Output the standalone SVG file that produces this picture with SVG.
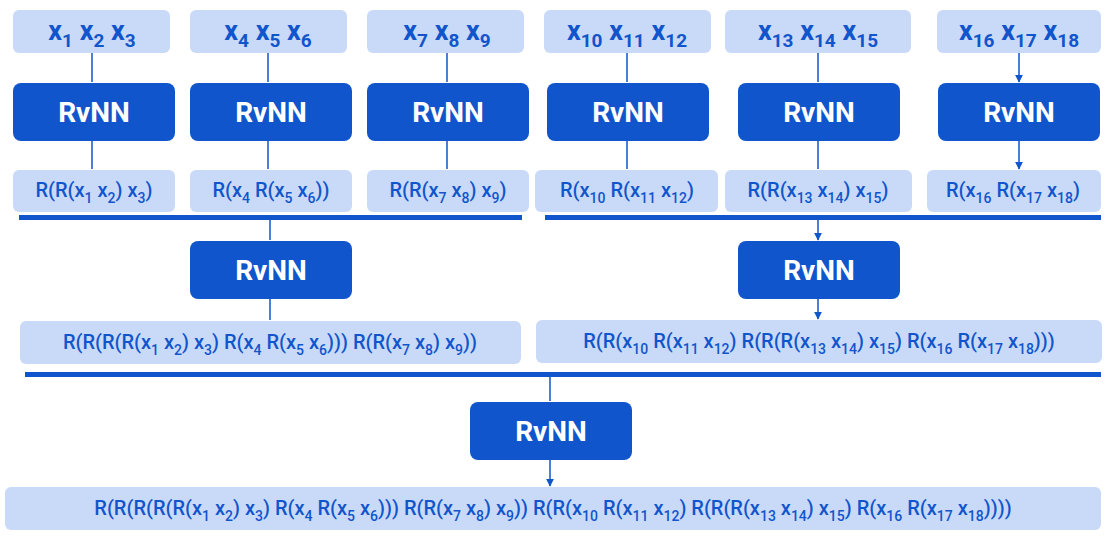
<svg xmlns="http://www.w3.org/2000/svg" width="1114" height="547" viewBox="0 0 1114 547">
<style>
.lb{fill:#c9daf8}
.dk{fill:#1155cc}
.t{font-family:Roboto,"Liberation Sans",sans-serif;font-weight:500;font-size:20px;fill:#1155cc;text-anchor:middle}
.s{font-size:14px}
.x{font-family:Roboto,"Liberation Sans",sans-serif;font-weight:700;font-size:27px;fill:#1155cc;text-anchor:middle}
.xs{font-size:19px}
.r{font-family:Roboto,"Liberation Sans",sans-serif;font-weight:700;font-size:28px;fill:#fff;text-anchor:middle}
.c{stroke:#1155cc;stroke-width:1.5;fill:none;marker-end:url(#a)}
.bar{fill:#1155cc}
</style>
<defs><marker id="a" viewBox="0 0 10 10" refX="9" refY="5" markerWidth="8" markerHeight="8" markerUnits="userSpaceOnUse" orient="auto"><path d="M0,0L10,5L0,10z" fill="#1155cc"/></marker></defs>
<g id="in1"><rect class="lb" x="13" y="10" width="157" height="43" rx="6"/><text class="x" x="92" y="40">x<tspan class="xs" dy="7">1</tspan><tspan dy="-7"> x</tspan><tspan class="xs" dy="7">2</tspan><tspan dy="-7"> x</tspan><tspan class="xs" dy="7">3</tspan></text></g>
<g id="in2"><rect class="lb" x="190" y="10" width="157" height="43" rx="6"/><text class="x" x="268" y="40">x<tspan class="xs" dy="7">4</tspan><tspan dy="-7"> x</tspan><tspan class="xs" dy="7">5</tspan><tspan dy="-7"> x</tspan><tspan class="xs" dy="7">6</tspan></text></g>
<g id="in3"><rect class="lb" x="367" y="10" width="157" height="43" rx="6"/><text class="x" x="447" y="40">x<tspan class="xs" dy="7">7</tspan><tspan dy="-7"> x</tspan><tspan class="xs" dy="7">8</tspan><tspan dy="-7"> x</tspan><tspan class="xs" dy="7">9</tspan></text></g>
<g id="in4"><rect class="lb" x="544" y="10" width="167" height="43" rx="6"/><text class="x" x="627" y="40">x<tspan class="xs" dy="7">10</tspan><tspan dy="-7"> x</tspan><tspan class="xs" dy="7">11</tspan><tspan dy="-7"> x</tspan><tspan class="xs" dy="7">12</tspan></text></g>
<g id="in5"><rect class="lb" x="725" y="10" width="186" height="43" rx="6"/><text class="x" x="818" y="40">x<tspan class="xs" dy="7">13</tspan><tspan dy="-7"> x</tspan><tspan class="xs" dy="7">14</tspan><tspan dy="-7"> x</tspan><tspan class="xs" dy="7">15</tspan></text></g>
<g id="in6"><rect class="lb" x="937" y="10" width="164" height="43" rx="6"/><text class="x" x="1019" y="40">x<tspan class="xs" dy="7">16</tspan><tspan dy="-7"> x</tspan><tspan class="xs" dy="7">17</tspan><tspan dy="-7"> x</tspan><tspan class="xs" dy="7">18</tspan></text></g>

<g id="rv1"><rect class="dk" x="13" y="83" width="162" height="58" rx="8"/><text class="r" x="94" y="122">RvNN</text></g>
<g id="rv2"><rect class="dk" x="190" y="83" width="162" height="58" rx="8"/><text class="r" x="271" y="122">RvNN</text></g>
<g id="rv3"><rect class="dk" x="367" y="83" width="162" height="58" rx="8"/><text class="r" x="448" y="122">RvNN</text></g>
<g id="rv4"><rect class="dk" x="547" y="83" width="162" height="58" rx="8"/><text class="r" x="628" y="122">RvNN</text></g>
<g id="rv5"><rect class="dk" x="738" y="83" width="162" height="58" rx="8"/><text class="r" x="819" y="122">RvNN</text></g>
<g id="rv6"><rect class="dk" x="938" y="83" width="162" height="58" rx="8"/><text class="r" x="1019" y="122">RvNN</text></g>

<g id="o1"><rect class="lb" x="13" y="170" width="162" height="42" rx="6"/><text class="t" x="94" y="197">R(R(x<tspan class="s" dy="6">1</tspan><tspan dy="-6"> x</tspan><tspan class="s" dy="6">2</tspan><tspan dy="-6">) x</tspan><tspan class="s" dy="6">3</tspan><tspan dy="-6">)</tspan></text></g>
<g id="o2"><rect class="lb" x="190" y="170" width="162" height="42" rx="6"/><text class="t" x="271" y="197">R(x<tspan class="s" dy="6">4</tspan><tspan dy="-6"> R(x</tspan><tspan class="s" dy="6">5</tspan><tspan dy="-6"> x</tspan><tspan class="s" dy="6">6</tspan><tspan dy="-6">))</tspan></text></g>
<g id="o3"><rect class="lb" x="367" y="170" width="162" height="42" rx="6"/><text class="t" x="448" y="197">R(R(x<tspan class="s" dy="6">7</tspan><tspan dy="-6"> x</tspan><tspan class="s" dy="6">8</tspan><tspan dy="-6">) x</tspan><tspan class="s" dy="6">9</tspan><tspan dy="-6">)</tspan></text></g>
<g id="o4"><rect class="lb" x="535" y="170" width="183" height="42" rx="6"/><text class="t" x="627" y="197">R(x<tspan class="s" dy="6">10</tspan><tspan dy="-6"> R(x</tspan><tspan class="s" dy="6">11</tspan><tspan dy="-6"> x</tspan><tspan class="s" dy="6">12</tspan><tspan dy="-6">)</tspan></text></g>
<g id="o5"><rect class="lb" x="725" y="170" width="187" height="42" rx="6"/><text class="t" x="818" y="197">R(R(x<tspan class="s" dy="6">13</tspan><tspan dy="-6"> x</tspan><tspan class="s" dy="6">14</tspan><tspan dy="-6">) x</tspan><tspan class="s" dy="6">15</tspan><tspan dy="-6">)</tspan></text></g>
<g id="o6"><rect class="lb" x="927" y="170" width="174" height="42" rx="6"/><text class="t" x="1013" y="197">R(x<tspan class="s" dy="6">16</tspan><tspan dy="-6"> R(x</tspan><tspan class="s" dy="6">17</tspan><tspan dy="-6"> x</tspan><tspan class="s" dy="6">18</tspan><tspan dy="-6">)</tspan></text></g>

<g id="rv7"><rect class="dk" x="190" y="241" width="162" height="58" rx="8"/><text class="r" x="271" y="280">RvNN</text></g>
<g id="rv8"><rect class="dk" x="738" y="241" width="162" height="58" rx="8"/><text class="r" x="819" y="280">RvNN</text></g>

<g id="m1"><rect class="lb" x="20" y="321" width="501" height="43" rx="6"/><text class="t" x="270" y="349">R(R(R(R(x<tspan class="s" dy="6">1</tspan><tspan dy="-6"> x</tspan><tspan class="s" dy="6">2</tspan><tspan dy="-6">) x</tspan><tspan class="s" dy="6">3</tspan><tspan dy="-6">) R(x</tspan><tspan class="s" dy="6">4</tspan><tspan dy="-6"> R(x</tspan><tspan class="s" dy="6">5</tspan><tspan dy="-6"> x</tspan><tspan class="s" dy="6">6</tspan><tspan dy="-6">))) R(R(x</tspan><tspan class="s" dy="6">7</tspan><tspan dy="-6"> x</tspan><tspan class="s" dy="6">8</tspan><tspan dy="-6">) x</tspan><tspan class="s" dy="6">9</tspan><tspan dy="-6">))</tspan></text></g>
<g id="m2"><rect class="lb" x="536" y="320" width="566" height="43" rx="6"/><text class="t" x="819" y="348">R(R(x<tspan class="s" dy="6">10</tspan><tspan dy="-6"> R(x</tspan><tspan class="s" dy="6">11</tspan><tspan dy="-6"> x</tspan><tspan class="s" dy="6">12</tspan><tspan dy="-6">) R(R(R(x</tspan><tspan class="s" dy="6">13</tspan><tspan dy="-6"> x</tspan><tspan class="s" dy="6">14</tspan><tspan dy="-6">) x</tspan><tspan class="s" dy="6">15</tspan><tspan dy="-6">) R(x</tspan><tspan class="s" dy="6">16</tspan><tspan dy="-6"> R(x</tspan><tspan class="s" dy="6">17</tspan><tspan dy="-6"> x</tspan><tspan class="s" dy="6">18</tspan><tspan dy="-6">)))</tspan></text></g>

<g id="rv9"><rect class="dk" x="470" y="402" width="162" height="58" rx="8"/><text class="r" x="551" y="441">RvNN</text></g>

<g id="f"><rect class="lb" x="5" y="487" width="1096" height="43" rx="6"/><text class="t" x="553" y="515">R(R(R(R(R(x<tspan class="s" dy="6">1</tspan><tspan dy="-6"> x</tspan><tspan class="s" dy="6">2</tspan><tspan dy="-6">) x</tspan><tspan class="s" dy="6">3</tspan><tspan dy="-6">) R(x</tspan><tspan class="s" dy="6">4</tspan><tspan dy="-6"> R(x</tspan><tspan class="s" dy="6">5</tspan><tspan dy="-6"> x</tspan><tspan class="s" dy="6">6</tspan><tspan dy="-6">))) R(R(x</tspan><tspan class="s" dy="6">7</tspan><tspan dy="-6"> x</tspan><tspan class="s" dy="6">8</tspan><tspan dy="-6">) x</tspan><tspan class="s" dy="6">9</tspan><tspan dy="-6">)) R(R(x</tspan><tspan class="s" dy="6">10</tspan><tspan dy="-6"> R(x</tspan><tspan class="s" dy="6">11</tspan><tspan dy="-6"> x</tspan><tspan class="s" dy="6">12</tspan><tspan dy="-6">) R(R(R(x</tspan><tspan class="s" dy="6">13</tspan><tspan dy="-6"> x</tspan><tspan class="s" dy="6">14</tspan><tspan dy="-6">) x</tspan><tspan class="s" dy="6">15</tspan><tspan dy="-6">) R(x</tspan><tspan class="s" dy="6">16</tspan><tspan dy="-6"> R(x</tspan><tspan class="s" dy="6">17</tspan><tspan dy="-6"> x</tspan><tspan class="s" dy="6">18</tspan><tspan dy="-6">))))</tspan></text></g>

<g id="connectors">
<rect class="bar" x="19" y="215" width="503" height="5"/>
<rect class="bar" x="545" y="215" width="556" height="5"/>
<rect class="bar" x="25" y="372" width="1076" height="5"/>
<path class="c" d="M92,53V82M268,53V82M447,53V82M627,53V82M818,53V82M1019,53V82"/>
<path class="c" d="M92,141V169M268,141V169M447,141V169M627,141V169M818,141V169M1019,141V169"/>
<path class="c" d="M270,220V240M818,220V240"/>
<path class="c" d="M270,299V320M818,299V319"/>
<path class="c" d="M550,377V401M550,460V486"/>
</g>
</svg>
